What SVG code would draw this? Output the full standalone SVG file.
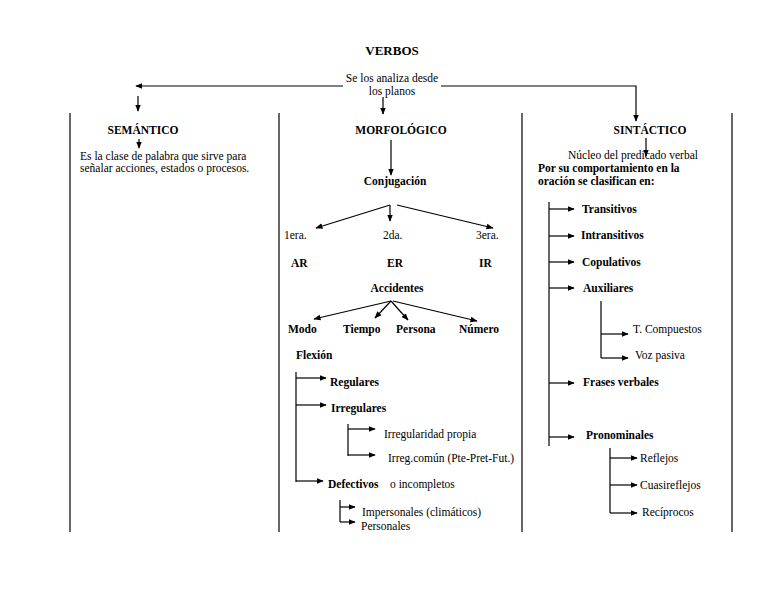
<svg xmlns="http://www.w3.org/2000/svg" width="768" height="594" viewBox="0 0 768 594">
<defs>
<marker id="a" viewBox="0 0 10 10" refX="9" refY="5" markerWidth="6" markerHeight="6" orient="auto"><path d="M0,1 L10,5 L0,9 z" fill="#000"/></marker>
<style>
text{font-family:"Liberation Serif",serif;font-size:11.5px;fill:#000}
.b{font-weight:bold}
.m{text-anchor:middle}
.c line,.c polyline{stroke:#000;stroke-width:1.2;fill:none}
.ar{marker-end:url(#a)}
.g{fill:none;stroke:#444;stroke-width:1.2}
</style>
</defs>
<rect width="768" height="594" fill="#fff"/>
<g id="frame" class="c">
<line x1="70" y1="113" x2="70" y2="532"/>
<line x1="279" y1="113" x2="279" y2="532"/>
<line x1="522" y1="113" x2="522" y2="532"/>
<line x1="732" y1="113" x2="732" y2="532"/>
</g>
<g id="connectors" class="c">
<line class="ar" x1="343" y1="86" x2="136" y2="86"/>
<polyline class="ar" points="441,86 636,86 636,121"/>
<line class="ar" x1="138" y1="96" x2="138" y2="111"/>
<line class="ar" x1="383" y1="97" x2="383" y2="114"/>
<line class="ar" x1="139" y1="139" x2="139" y2="148"/>
<line class="ar" x1="391" y1="140" x2="391" y2="175"/>
<line class="ar" x1="646" y1="138" x2="646" y2="156"/>
<line class="ar" x1="390" y1="205" x2="316" y2="228"/>
<line class="ar" x1="390" y1="205" x2="390" y2="221"/>
<line class="ar" x1="397" y1="205" x2="493" y2="228"/>
<line class="ar" x1="391" y1="301" x2="314" y2="319"/>
<line class="ar" x1="391" y1="301" x2="375" y2="318"/>
<line class="ar" x1="391" y1="301" x2="408" y2="320"/>
<line class="ar" x1="393" y1="301" x2="477" y2="321"/>
<line x1="296" y1="372" x2="296" y2="482"/>
<line class="ar" x1="296" y1="378" x2="326" y2="378"/>
<line class="ar" x1="296" y1="405" x2="326" y2="405"/>
<line class="ar" x1="296" y1="481" x2="323" y2="481"/>
<line x1="348" y1="424" x2="348" y2="456"/>
<line class="ar" x1="348" y1="429" x2="375" y2="429"/>
<line class="ar" x1="348" y1="455" x2="375" y2="455"/>
<line x1="340" y1="500" x2="340" y2="522"/>
<line class="ar" x1="340" y1="507" x2="355" y2="507"/>
<line class="ar" x1="340" y1="522" x2="355" y2="522"/>
<line x1="549" y1="202" x2="549" y2="446"/>
<line class="ar" x1="549" y1="209" x2="574" y2="209"/>
<line class="ar" x1="549" y1="236" x2="574" y2="236"/>
<line class="ar" x1="549" y1="262" x2="574" y2="262"/>
<line class="ar" x1="549" y1="288" x2="574" y2="288"/>
<line class="ar" x1="549" y1="383" x2="574" y2="383"/>
<line class="ar" x1="549" y1="437" x2="574" y2="437"/>
<line x1="601" y1="301" x2="601" y2="358"/>
<line class="ar" x1="601" y1="334" x2="628" y2="334"/>
<line class="ar" x1="601" y1="358" x2="628" y2="358"/>
<line x1="610" y1="448" x2="610" y2="513"/>
<line class="ar" x1="610" y1="458" x2="637" y2="458"/>
<line class="ar" x1="610" y1="485" x2="637" y2="485"/>
<line class="ar" x1="610" y1="513" x2="637" y2="513"/>
</g>
<g id="title"><text class="b m" x="392" y="55" style="font-size:13px">VERBOS</text></g>
<g id="planos"><text class="m" x="392" y="82">Se los analiza desde</text><text class="m" x="392" y="95">los planos</text></g>
<g id="semantico"><text class="b m" x="143" y="134">SEMÁNTICO</text>
<text x="80" y="160">Es la clase de palabra que sirve para</text><text x="80" y="172">señalar acciones, estados o procesos.</text></g>
<g id="morfologico"><text class="b m" x="401" y="134">MORFOLÓGICO</text></g>
<g id="conjugacion"><text class="b m" x="395" y="185">Conjugación</text>
<text x="284" y="239">1era.</text><text x="383" y="239">2da.</text><text x="476" y="239">3era.</text>
<text class="b" x="291" y="267">AR</text><text class="b" x="387" y="267">ER</text><text class="b" x="479" y="267">IR</text></g>
<g id="accidentes"><text class="b m" x="397" y="292">Accidentes</text>
<text class="b" x="288" y="333">Modo</text><text class="b" x="343" y="333">Tiempo</text><text class="b" x="396" y="333">Persona</text><text class="b" x="459" y="333">Número</text></g>
<g id="flexion"><text class="b" x="296" y="359">Flexión</text>
<text class="b" x="330" y="386">Regulares</text><text class="b" x="331" y="412">Irregulares</text>
<text x="384" y="438">Irregularidad propia</text><text x="388" y="462">Irreg.común (Pte-Pret-Fut.)</text>
<text class="b" x="328" y="488">Defectivos</text><text x="390" y="488">o incompletos</text>
<text x="362" y="516">Impersonales (climáticos)</text><text x="361" y="530">Personales</text></g>
<g id="sintactico"><text class="b m" x="650" y="134">SINTÁCTICO</text>
<text class="m" x="633" y="159">Núcleo del predicado verbal</text>
<text class="b" x="538" y="172">Por su comportamiento en la</text><text class="b" x="538" y="185">oración se clasifican en:</text>
<text class="b" x="582" y="213">Transitivos</text><text class="b" x="581" y="239">Intransitivos</text><text class="b" x="582" y="266">Copulativos</text><text class="b" x="583" y="292">Auxiliares</text>
<text x="633" y="333">T. Compuestos</text><text x="635" y="359">Voz pasiva</text>
<text class="b" x="583" y="386">Frases verbales</text><text class="b" x="586" y="439">Pronominales</text>
<text x="640" y="462">Reflejos</text><text x="640" y="489">Cuasireflejos</text><text x="642" y="516">Recíprocos</text></g>
</svg>
